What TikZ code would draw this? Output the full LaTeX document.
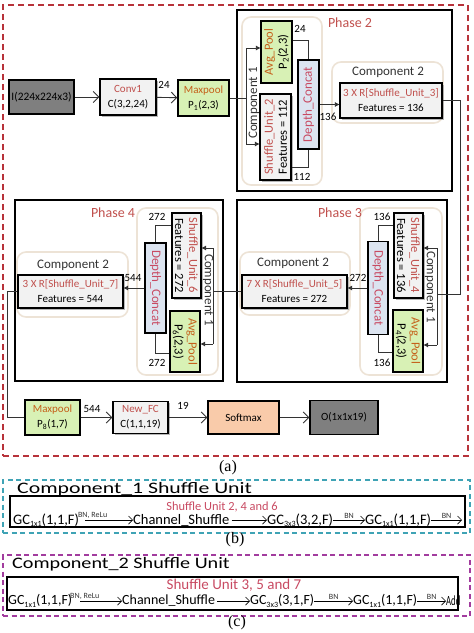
\documentclass[tikz,border=0pt]{standalone}
\usepackage{fontspec}
\setmainfont{Carlito}
\newfontfamily\capfont{Liberation Serif}
\usepackage{graphicx}
\usetikzlibrary{arrows.meta,shadows}
\newcommand\myfs[2]{\fontsize{#1}{#2}\selectfont}
\newcommand\gsub[1]{\raisebox{-2.5pt}{\myfs{8}{9}#1}}
\definecolor{dkgray}{HTML}{7F7F7F}
\definecolor{boxgreen}{HTML}{D8F1B5}
\definecolor{boxblue}{HTML}{DCE4F0}
\definecolor{boxpeach}{HTML}{F9CBAA}
\definecolor{boxlight}{HTML}{F2F2F2}
\definecolor{redtxt}{HTML}{C0504D}
\definecolor{pinktxt}{HTML}{C84A62}
\definecolor{orgtxt}{HTML}{C5601A}
\definecolor{reddash}{HTML}{B7323A}
\definecolor{cyandash}{HTML}{3FA3B5}
\definecolor{magdash}{HTML}{A23C9E}
\definecolor{compedge}{HTML}{EDE3D6}
\definecolor{wirec}{HTML}{333333}
\begin{document}
\begin{tikzpicture}[x=1pt,y=-1pt,
 wireln/.style={draw=wirec, line width=0.9pt},
 bigarr/.style={wireln, -{Straight Barb[length=5.5pt,width=11pt]}},
 smarr/.style={wireln, -{Triangle[length=4.5pt,width=4.5pt]}},
 farr/.style={draw=black, line width=0.7pt, -{Straight Barb[length=4pt,width=8pt]}},
 blk/.style={draw=black, line width=1.4pt, inner sep=0pt, align=center, font=\myfs{11}{15}},
 rotbox/.style={blk, font=\myfs{12.5}{14}},
 shad/.style={drop shadow={shadow xshift=1.8pt, shadow yshift=-1.8pt, fill=black!40, opacity=.7}},
 phasebox/.style={draw=black, line width=1.6pt, inner sep=0pt},
 compbox/.style={draw=compedge, line width=1.6pt, rounded corners=9pt, fill=white, inner sep=0pt},
 ptitle/.style={text=redtxt, font=\myfs{14}{16}, inner sep=0pt},
 ctitle/.style={font=\myfs{13}{15}, text=black!80, inner sep=0pt},
 numlbl/.style={font=\myfs{11}{13}, inner sep=0pt},
 caplbl/.style={font=\capfont\myfs{16}{18}, inner sep=0pt},
 ftext/.style={anchor=west, inner sep=0pt},
 bnlbl/.style={font=\myfs{8}{9}, inner sep=1pt, above, text=black!80},
 dashbox/.style={line width=1.3pt, dash pattern=on 6pt off 4pt, inner sep=0pt},
]
\useasboundingbox (0,0) rectangle (474,633);

% ---------- containers ----------
\node[dashbox, draw=reddash, minimum width=465pt, minimum height=451pt] (outer) at (235.5,230.5) {};
\node[phasebox, minimum width=215pt, minimum height=181pt] (ph2) at (344.5,100.5) {};
\node[phasebox, minimum width=210pt, minimum height=182pt] (ph3) at (342,291) {};
\node[phasebox, minimum width=208pt, minimum height=181pt] (ph4) at (119,290.5) {};

\node[compbox, minimum width=80pt, minimum height=168pt] (c1p2) at (282,101) {};
\node[compbox, minimum width=111pt, minimum height=61pt] (c2p2) at (387.5,92.5) {};
\node[compbox, minimum width=82pt, minimum height=167pt] (c1p3) at (401,291.5) {};
\node[compbox, minimum width=110pt, minimum height=63pt] (c2p3) at (295,283.5) {};
\node[compbox, minimum width=81pt, minimum height=167pt] (c1p4) at (177.5,291.5) {};
\node[compbox, minimum width=111pt, minimum height=65pt] (c2p4) at (72.5,284.5) {};

% ---------- titles ----------
\node[ptitle] (t2) at (350,23) {Phase 2};
\node[ptitle] (t3) at (340,213) {Phase 3};
\node[ptitle] (t4) at (113,213) {Phase 4};
\node[ctitle] (k2p2) at (388,72) {Component 2};
\node[ctitle] (k2p3) at (293,263) {Component 2};
\node[ctitle] (k2p4) at (73,265) {Component 2};
\node[ctitle, rotate=90] (k1p2) at (254,103) {Component 1};
\node[ctitle, rotate=-90] (k1p3) at (430,287) {Component 1};
\node[ctitle, rotate=-90] (k1p4) at (208,290) {Component 1};

% ---------- top row ----------
\node[blk, fill=dkgray, minimum width=65pt, minimum height=34pt, font=\myfs{11.4}{14}] (inp) at (41.5,97) {I(224x224x3)};
\node[blk, fill=boxlight, shad, minimum width=56pt, minimum height=36pt] (conv) at (128,97) {\textcolor{redtxt}{Conv1}\\C(3,2,24)};
\node[blk, fill=boxgreen, minimum width=51pt, minimum height=36pt] (mp1) at (203.5,98) {\textcolor{orgtxt}{Maxpool}\\P\textsubscript{1}(2,3)};

% ---------- phase 2 ----------
\node[rotbox, fill=boxgreen, rotate=90, minimum width=62pt, minimum height=31pt] (ap2) at (276.5,52) {\textcolor{orgtxt}{Avg\_Pool}\\P\textsubscript{2}(2,3)};
\node[rotbox, fill=boxlight, shad, rotate=90, minimum width=86pt, minimum height=31pt] (su2) at (275.5,137) {\textcolor{redtxt}{Shuffle\_Unit\_2}\\Features = 112};
\node[rotbox, fill=boxblue, rotate=90, minimum width=89pt, minimum height=21pt, font=\myfs{13}{14}] (dc2) at (308.5,104.5) {\textcolor{pinktxt}{Depth\_Concat}};
\node[blk, fill=boxlight, shad, minimum width=102pt, minimum height=35pt] (su3) at (391,100.5) {\textcolor{redtxt}{3 X R[Shuffle\_Unit\_3]}\\Features = 136};

% ---------- phase 3 ----------
\node[rotbox, fill=boxlight, shad, rotate=-90, minimum width=85pt, minimum height=29pt] (su4) at (408.5,255.5) {\textcolor{redtxt}{Shuffle\_Unit\_4}\\Features = 136};
\node[rotbox, fill=boxgreen, rotate=-90, minimum width=62pt, minimum height=30pt] (ap4) at (408,341) {\textcolor{orgtxt}{Avg\_Pool}\\P\textsubscript{4}(2,3)};
\node[rotbox, fill=boxblue, rotate=-90, minimum width=93pt, minimum height=20pt, font=\myfs{13}{14}] (dc3) at (378,288) {\textcolor{pinktxt}{Depth\_Concat}};
\node[blk, fill=boxlight, shad, minimum width=105pt, minimum height=33pt] (su5) at (294.5,291.5) {\textcolor{redtxt}{7 X R[Shuffle\_Unit\_5]}\\Features = 272};

% ---------- phase 4 ----------
\node[rotbox, fill=boxlight, shad, rotate=-90, minimum width=85pt, minimum height=29pt] (su6) at (186.5,255.5) {\textcolor{redtxt}{Shuffle\_Unit\_6}\\Features = 272};
\node[rotbox, fill=boxgreen, rotate=-90, minimum width=61pt, minimum height=30pt] (ap6) at (185,341.5) {\textcolor{orgtxt}{Avg\_Pool}\\P\textsubscript{6}(2,3)};
\node[rotbox, fill=boxblue, rotate=-90, minimum width=90pt, minimum height=21pt, font=\myfs{13}{14}] (dc4) at (155.5,288) {\textcolor{pinktxt}{Depth\_Concat}};
\node[blk, fill=boxlight, shad, minimum width=105pt, minimum height=33pt] (su7) at (70.5,291.5) {\textcolor{redtxt}{3 X R[Shuffle\_Unit\_7]}\\Features = 544};

% ---------- bottom row ----------
\node[blk, fill=boxgreen, minimum width=55pt, minimum height=35pt] (mp8) at (52.5,417.5) {\textcolor{orgtxt}{Maxpool}\\P\textsubscript{8}(1,7)};
\node[blk, fill=boxlight, shad, minimum width=55pt, minimum height=32pt] (nfc) at (140.5,417.5) {\textcolor{redtxt}{New\_FC}\\C(1,1,19)};
\node[blk, fill=boxpeach, minimum width=71pt, minimum height=33pt] (smx) at (243.5,417.5) {Softmax};
\node[blk, fill=dkgray, minimum width=68pt, minimum height=34pt] (outn) at (344,417.5) {O(1x1x19)};

% ---------- number labels ----------
\node[numlbl] (n24a) at (164,85) {24};
\node[numlbl] (n24b) at (300,29) {24};
\node[numlbl] (n112) at (302,177) {112};
\node[numlbl] (n136a) at (328,117) {136};
\node[numlbl] (n136b) at (382,217) {136};
\node[numlbl] (n136c) at (382,363) {136};
\node[numlbl] (n272a) at (358,278) {272};
\node[numlbl] (n272b) at (157,217) {272};
\node[numlbl] (n272c) at (157,363) {272};
\node[numlbl] (n544a) at (133,278) {544};
\node[numlbl] (n544b) at (92,409) {544};
\node[numlbl] (n19) at (183,406) {19};

% ---------- coordinates ----------
\coordinate (br2) at (246,98);
\coordinate (br2t) at (246,48);
\coordinate (br2b) at (246,144);
\coordinate (turn3) at (460,294);
\coordinate (br3) at (437,294);
\coordinate (br3t) at (437,248);
\coordinate (br3b) at (437,345);
\coordinate (br4) at (213,291.5);
\coordinate (br4t) at (213,248);
\coordinate (br4b) at (213,344);
\coordinate (turn8) at (7,417.5);

% ---------- connectors ----------
\draw[bigarr] (inp) -- (conv);
\draw[bigarr] (conv) -- (mp1);
\draw[wireln] (mp1.east) -- (br2);
\draw[wireln] (br2t) -- (br2b);
\draw[smarr] (br2t) -- (br2t -| ap2.north);
\draw[smarr] (br2b) -- (br2b -| su2.north);
\draw[wireln] ([yshift=12pt]ap2.south) -| (dc2.east);
\draw[wireln] ([yshift=-30pt]su2.south) -| (dc2.west);
\draw[smarr] (dc2.south) -- (dc2.south -| su3.west);
\draw[wireln] (su3.east) -| (turn3) -- (br3);
\draw[wireln] (br3t) -- (br3b);
\draw[smarr] (br3t) -- (br3t -| su4.north);
\draw[smarr] (br3b) -- (br3b -| ap4.north);
\draw[wireln] ([yshift=30.5pt]su4.south) -| (dc3.west);
\draw[wireln] ([yshift=-11pt]ap4.south) -| (dc3.east);
\draw[smarr] (dc3.south) -- (dc3.south -| su5.east);
\draw[wireln] (su5.west) -- (br4);
\draw[wireln] (br4t) -- (br4b);
\draw[smarr] (br4t) -- (br4t -| su6.north);
\draw[smarr] (br4b) -- (br4b -| ap6.north);
\draw[wireln] ([yshift=30.5pt]su6.south) -| (dc4.west);
\draw[wireln] ([yshift=-11.5pt]ap6.south) -| (dc4.east);
\draw[smarr] (dc4.south) -- (dc4.south -| su7.east);
\draw[wireln] (su7.west) -| (turn8) -- (mp8.west);
\draw[bigarr] (mp8) -- (nfc);
\draw[bigarr] (nfc) -- (smx);
\draw[bigarr] (smx) -- (outn);

\node[caplbl] (capa) at (228,468) {(a)};

% ---------- panel (b) ----------
\node[dashbox, draw=cyandash, dash pattern=on 5pt off 3.5pt, minimum width=467pt, minimum height=53pt] (pb) at (236.5,506.5) {};
\node[draw=black, line width=1.8pt, minimum width=455pt, minimum height=31pt, inner sep=0pt] (ib) at (237.5,511.5) {};
\node[ftext] (hb) at (17,489) {\scalebox{1.36}[1]{\myfs{16}{18}Component\_1 Shuffle Unit}};
\node[font=\myfs{12.4}{14}, text=pinktxt, inner sep=0pt] (sb) at (222,507) {Shuffle Unit 2, 4 and 6};
\node[ftext, font=\myfs{14.5}{17}] (gcb1) at (13,520) {GC\gsub{1x1}(1,1,F)};
\node[ftext, font=\myfs{14.5}{17}] (csb) at (133,520) {Channel\_Shuffle};
\node[ftext, font=\myfs{14.5}{17}] (gcb2) at (267,520) {GC\gsub{3x3}(3,2,F)};
\node[ftext, font=\myfs{14.5}{17}] (gcb3) at (365,520) {GC\gsub{1x1}(1,1,F)};
\coordinate (endb) at (462,520);
\draw[farr, shorten <=6pt] (gcb1.east) -- node[bnlbl, pos=0.25] {BN, ReLu} (csb.west);
\draw[farr, shorten <=2pt] (csb.east) -- (gcb2.west);
\draw[farr] (gcb2.east) -- node[bnlbl] {BN} (gcb3.west);
\draw[farr] (gcb3.east) -- node[bnlbl] {BN} (endb);
\node[caplbl] (capb) at (235,540) {(b)};

% ---------- panel (c) ----------
\node[dashbox, draw=magdash, dash pattern=on 5pt off 3.5pt, minimum width=467pt, minimum height=61pt] (pc) at (236.5,585.5) {};
\node[draw=black, line width=1.8pt, minimum width=451pt, minimum height=33pt, inner sep=0pt] (ic) at (232.5,593.5) {};
\node[ftext] (hc) at (12,564) {\scalebox{1.26}[1]{\myfs{16}{18}Component\_2 Shuffle Unit}};
\node[font=\myfs{15}{17}, text=pinktxt, inner sep=0pt] (sc) at (234,585) {Shuffle Unit 3, 5 and 7};
\node[ftext, font=\myfs{14}{17}] (gcc1) at (8,601) {GC\gsub{1x1}(1,1,F)};
\node[ftext, font=\myfs{14}{17}] (csc) at (122,601) {Channel\_Shuffle};
\node[ftext, font=\myfs{14}{17}] (gcc2) at (250,601) {GC\gsub{3x3}(3,1,F)};
\node[ftext, font=\myfs{14}{17}] (gcc3) at (353,601) {GC\gsub{1x1}(1,1,F)};
\node[ftext, font=\myfs{14}{17}] (addc) at (446,601) {\scalebox{0.62}[1]{Add}};
\draw[farr, shorten <=8pt] (gcc1.east) -- node[bnlbl, pos=0.25] {BN, ReLu} (csc.west);
\draw[farr, shorten <=2pt] (csc.east) -- (gcc2.west);
\draw[farr] (gcc2.east) -- node[bnlbl] {BN} (gcc3.west);
\draw[farr] (gcc3.east) -- node[bnlbl] {BN} (addc.west);
\node[caplbl] (capc) at (237,623) {(c)};
\end{tikzpicture}
\end{document}
